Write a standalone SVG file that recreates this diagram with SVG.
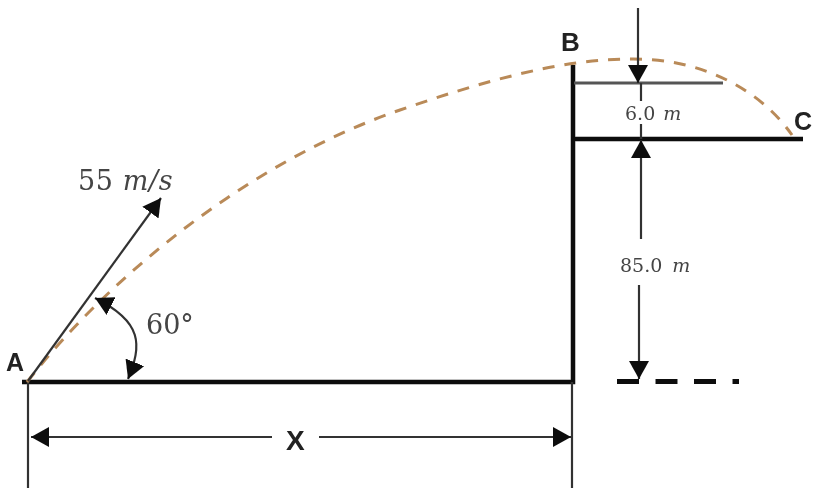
<svg xmlns="http://www.w3.org/2000/svg" width="816" height="494" viewBox="0 0 816 494">
<style>
.thick{stroke:#111;stroke-width:4.5;fill:none}
.thin{stroke:#333;stroke-width:2.2;fill:none}
.bold{font-family:"Liberation Sans",Arial,sans-serif;font-weight:700;fill:#222}
.math{font-family:"DejaVu Serif","Liberation Serif",serif;fill:#444}
.it{font-style:italic}
</style>
<defs>
<marker id="ah" markerUnits="userSpaceOnUse" markerWidth="20" markerHeight="20" refX="18" refY="10" orient="auto-start-reverse"><path d="M0 0L18 10L0 20Z" fill="#111"/></marker>
<filter id="soft" x="0" y="0" width="100%" height="100%"><feGaussianBlur stdDeviation="0.7"/></filter>
</defs>
<rect width="816" height="494" fill="#fff"/>
<g filter="url(#soft)">
<g id="ground">
<path class="thick" d="M22 382H573V65"/>
<path class="thick" d="M571 139H803"/>
<path stroke="#111" stroke-width="5" fill="none" stroke-dasharray="22 16.5" d="M617 381.5H739"/>
<path stroke="#555" stroke-width="2.8" fill="none" d="M574 83H723"/>
<path class="thin" d="M28 382V488M572 382V488"/>
</g>
<g id="connectors">
<path fill="none" stroke="#b98a58" stroke-width="3" stroke-dasharray="12 10" d="M27 382C115 270 255 160 400 110C480 82.400 560 59 630 59C705 58 762 92 792 135"/>
<path class="thin" marker-end="url(#ah)" d="M28 381L161 198"/>
<path class="thin" marker-start="url(#ah)" marker-end="url(#ah)" d="M128 379C142 345 143 322 95 298"/>
<path class="thin" marker-end="url(#ah)" d="M638 8V83"/>
<path class="thin" d="M641 83V101M641 124V139"/>
<path class="thin" marker-start="url(#ah)" d="M641 140V239"/>
<path class="thin" marker-end="url(#ah)" d="M639 285V379"/>
<path class="thin" marker-start="url(#ah)" d="M31 437H272"/>
<path class="thin" marker-end="url(#ah)" d="M319 437H571"/>
</g>
<g id="labels">
<text class="bold" x="6" y="371" font-size="25">A</text>
<text class="bold" x="561" y="51" font-size="26">B</text>
<text class="bold" x="794" y="130" font-size="25">C</text>
<text class="bold" x="286" y="450" font-size="28">X</text>
<text class="math" x="78" y="190" font-size="27" letter-spacing="0.6">55 <tspan class="it">m/s</tspan></text>
<text class="math" x="146" y="334" font-size="27">60°</text>
<text class="math" x="625" y="120" font-size="19" word-spacing="2">6.0 <tspan class="it">m</tspan></text>
<text class="math" x="620" y="272" font-size="19" word-spacing="4">85.0 <tspan class="it">m</tspan></text>
</g>
</g>
</svg>
